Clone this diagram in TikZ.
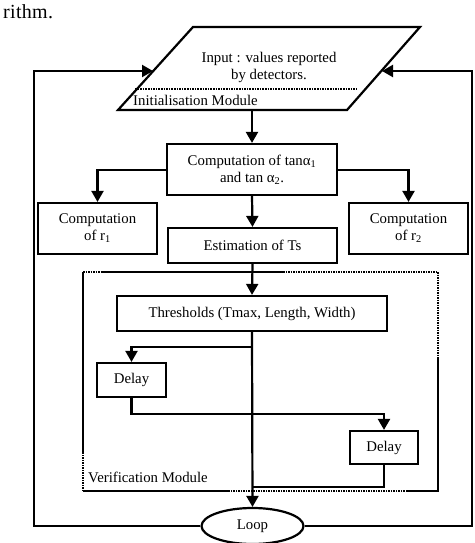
\documentclass[tikz,border=0pt]{standalone}
\usepackage{fontspec}
\setmainfont{Liberation Serif}
\usetikzlibrary{arrows.meta,shapes.geometric}
\begin{document}
\begin{tikzpicture}[x=1pt,y=-1pt,
 box/.style={draw,line width=2.2pt,inner sep=0pt,align=center,font=\fontsize{14.8}{17}\selectfont},
 conn/.style={line width=2.2pt,-{Triangle[length=11pt,width=12pt]}},
 plain/.style={line width=2.2pt},
 vmod/.style={line width=1.5pt},
 vdot/.style={line width=1.5pt,densely dotted},
 lbl/.style={inner sep=0pt,align=center,font=\fontsize{14.8}{17}\selectfont}]
\useasboundingbox (0,0) rectangle (474,543);
% fragment of caption
\node[anchor=base west,inner sep=0pt,font=\fontsize{20}{24}\selectfont] (frag) at (3,18.5) {r\kern0.3pt i\kern0.3pt t\kern0.3pt h\kern0.3pt m\kern0.3pt.};
% input parallelogram
\draw[plain] (193,27) -- (420,27) -- (347,110) -- (118,110) -- cycle;
\coordinate (pin) at (153,71);
\coordinate (pout) at (382,71);
\coordinate (pbot) at (252,110);
\node[lbl] (intext) at (269,67) {Input : values reported\\by detectors.};
\draw[line width=1.6pt,densely dotted] (135,89) -- (357,89);
\node[lbl,anchor=west] (initlbl) at (133,100) {Initialisation Module};
% boxes
\node[box,minimum width=170pt,minimum height=51pt] (tan) at (252,169.5) {Computation of tanα\textsubscript{1}\\and tan α\textsubscript{2}.};
\node[box,minimum width=119pt,minimum height=51pt] (r1) at (97.5,228.5) {Computation\\of r\textsubscript{1}};
\node[box,minimum width=119pt,minimum height=51pt] (r2) at (408.5,228.5) {Computation\\of r\textsubscript{2}};
\node[box,minimum width=169pt,minimum height=35pt] (ts) at (252.5,245.5) {Estimation of Ts};
\node[box,minimum width=270pt,minimum height=35pt] (thr) at (252,313.5) {Thresholds (Tmax, Length, Width)};
\node[box,minimum width=69pt,minimum height=34pt] (d1) at (131.5,380) {Delay};
\node[box,minimum width=68pt,minimum height=33pt] (d2) at (384,447.5) {Delay};
\node[box,ellipse,minimum width=102pt,minimum height=36pt] (loop) at (252.5,526) {Loop};
% verification module frame
\draw[vdot] (83,272) -- (102,272);
\draw[vmod] (102,272) -- (283,272);
\draw[vdot] (283,272) -- (438,272) -- (438,358);
\draw[vmod] (438,358) -- (438,491) -- (407,491);
\draw[vdot] (407,491) -- (228,491);
\draw[vmod] (228,491) -- (83,491);
\draw[vdot] (83,491) -- (83,453);
\draw[vmod] (83,453) -- (83,272);
\node[lbl,anchor=west] (vlbl) at (88,477) {Verification Module};
% connectors
\draw[conn] (pbot) -- (tan.north);
\draw[conn] (tan.west |- 0,170) -| (r1.north);
\draw[conn] (tan.east |- 0,170) -| (r2.north);
\draw[conn] (tan.south) -- (ts.north);
\draw[conn] (ts.south) -- (thr.north);
\draw[conn] (thr.south) -- (loop.north);
\coordinate (b1) at (252,347);
\draw[conn] (b1) -| (d1.north);
\coordinate (j1) at (131.5,414);
\draw[conn] (d1.south) -- (j1) -| (d2.north);
\coordinate (j2) at (252,487);
\draw[line width=1.4pt] (d2.south) |- (j2);
\coordinate (cl) at (34,71);
\coordinate (cr) at (472,71);
\draw[conn] (loop.west) -| (cl) -- (pin);
\draw[conn] (loop.east) -| (cr) -- (pout);
\end{tikzpicture}
\end{document}
